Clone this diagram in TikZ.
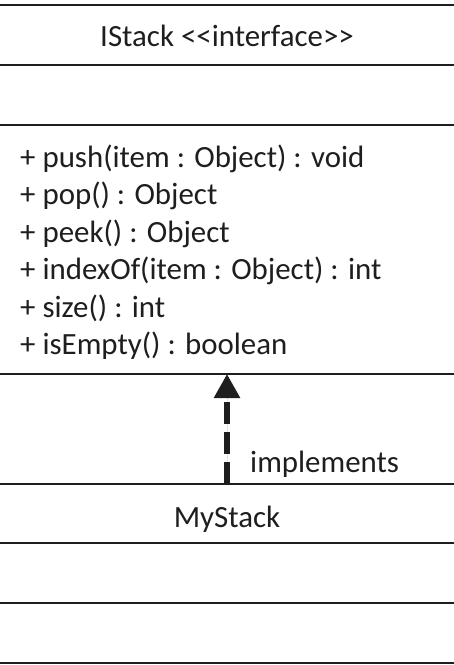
\documentclass[tikz,border=0pt]{standalone}
\usepackage{fontspec}
\setmainfont{Carlito}
\usetikzlibrary{arrows.meta}
\definecolor{ink}{HTML}{1E1E1E}
\begin{document}
\begin{tikzpicture}[x=1bp,y=-1bp,
  comp/.style={draw=none,minimum width=454bp,inner sep=0pt,outer sep=0pt},
  sep/.style={draw=ink,line width=2.5bp},
  txt/.style={font=\fontsize{31}{37.5}\selectfont,text=ink,inner sep=0pt},
  realize/.style={draw=ink,fill=ink,line width=5.5bp,dash pattern=on 22bp off 8bp,
    -{Triangle[length=24bp,width=25bp]}}]
\useasboundingbox (0,0) rectangle (454,665);
% interface compartments
\node[comp,minimum height=60bp] (ititle) at (227,35) {};
\node[comp,minimum height=60bp] (iattr) at (227,95) {};
\node[comp,minimum height=249bp] (imeth) at (227,249.5) {};
% class compartments
\node[comp,minimum height=59bp] (mtitle) at (227,513.5) {};
\node[comp,minimum height=60bp] (mattr) at (227,573) {};
\node[comp,minimum height=60bp] (mmeth) at (227,633) {};
% separators
\foreach \n in {ititle,iattr,imeth,mtitle,mattr,mmeth}{
  \draw[sep] (\n.north west) -- (\n.north east);
}
\draw[sep] (imeth.south west) -- (imeth.south east);
\draw[sep] (mmeth.south west) -- (mmeth.south east);
% texts
\node[txt,anchor=base] (ilabel) at (227,47) {IStack <{}<interface>{}>};
\node[txt,anchor=base west] (m1) at (20,167) {+ push(item : Object) : void};
\node[txt,anchor=base west] (m2) at (20,204.5) {+ pop() : Object};
\node[txt,anchor=base west] (m3) at (20,242) {+ peek() : Object};
\node[txt,anchor=base west] (m4) at (20,279.5) {+ indexOf(item : Object) : int};
\node[txt,anchor=base west] (m5) at (20,317) {+ size() : int};
\node[txt,anchor=base west] (m6) at (20,354.5) {+ isEmpty() : boolean};
\node[txt,anchor=base] (mlabel) at (227,527) {MyStack};
% realization
\draw[realize] (mtitle.north) -- (imeth.south);
\node[txt,anchor=base west] (impl) at (250,472) {implements};
\end{tikzpicture}
\end{document}
